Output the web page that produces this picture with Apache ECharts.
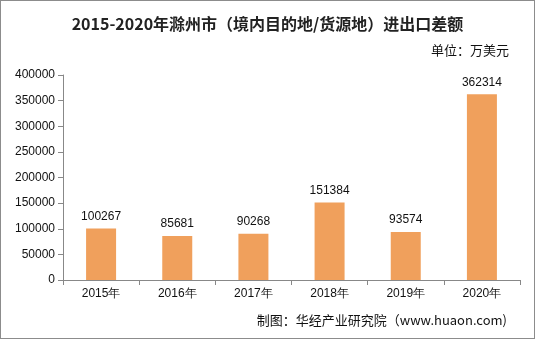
<!DOCTYPE html>
<html>
<head>
<meta charset="utf-8">
<script src="https://cdn.jsdelivr.net/npm/echarts@6/dist/echarts.min.js"></script>
<style>
  html, body { margin: 0; padding: 0; background: #fff; }
  #chart { width: 535px; height: 339px; box-sizing: border-box; border: 1px solid #8c8c8c; }
</style>
</head>
<body>
<div id="chart"></div>
<script>
var years = ['2015年', '2016年', '2017年', '2018年', '2019年', '2020年'];
var balance = [100267, 85681, 90268, 151384, 93574, 362314];
var yTicks = [0, 50000, 100000, 150000, 200000, 250000, 300000, 350000, 400000];

var myChart = echarts.init(document.getElementById('chart'));
myChart.setOption({
  animation: false,
  title: [
    {
      text: '2015-2020年滁州市（境内目的地/货源地）进出口差额',
      left: 'center',
      top: 10,
      textStyle: { fontFamily: 'Noto Sans CJK SC', fontSize: 16, fontWeight: 'bold', color: '#222' }
    },
    {
      text: '单位：万美元',
      right: 20,
      top: 38,
      textStyle: { fontFamily: 'Noto Sans CJK SC', fontSize: 13, fontWeight: 'normal', color: '#111' }
    },
    {
      text: '制图：华经产业研究院（www.huaon.com)',
      right: 22,
      top: 308,
      textStyle: { fontFamily: 'Noto Sans CJK SC', fontSize: 13, fontWeight: 'normal', color: '#111' }
    }
  ],
  grid: { left: 62, right: 14, top: 74, bottom: 58, containLabel: false },
  xAxis: {
    type: 'category',
    data: years,
    axisLine: { lineStyle: { color: '#888' } },
    axisTick: { show: true, alignWithLabel: false, lineStyle: { color: '#888' } },
    axisLabel: { color: '#111', fontSize: 12, fontFamily: 'Liberation Sans', margin: 8 }
  },
  yAxis: {
    type: 'value',
    min: yTicks[0],
    max: yTicks[yTicks.length - 1],
    interval: 50000,
    axisLine: { show: true, lineStyle: { color: '#888' } },
    axisTick: { show: true, lineStyle: { color: '#888' } },
    splitLine: { show: false },
    axisLabel: {
      color: '#111',
      fontSize: 12,
      fontFamily: 'Liberation Sans',
      margin: 8,
      formatter: function (v) { return String(v); }
    }
  },
  series: [
    {
      type: 'bar',
      data: balance,
      barWidth: 30,
      itemStyle: { color: '#f0a05c' },
      label: {
        show: true,
        position: 'top',
        distance: 6,
        color: '#111',
        fontSize: 12,
        fontFamily: 'Liberation Sans'
      }
    }
  ]
});
</script>
</body>
</html>
